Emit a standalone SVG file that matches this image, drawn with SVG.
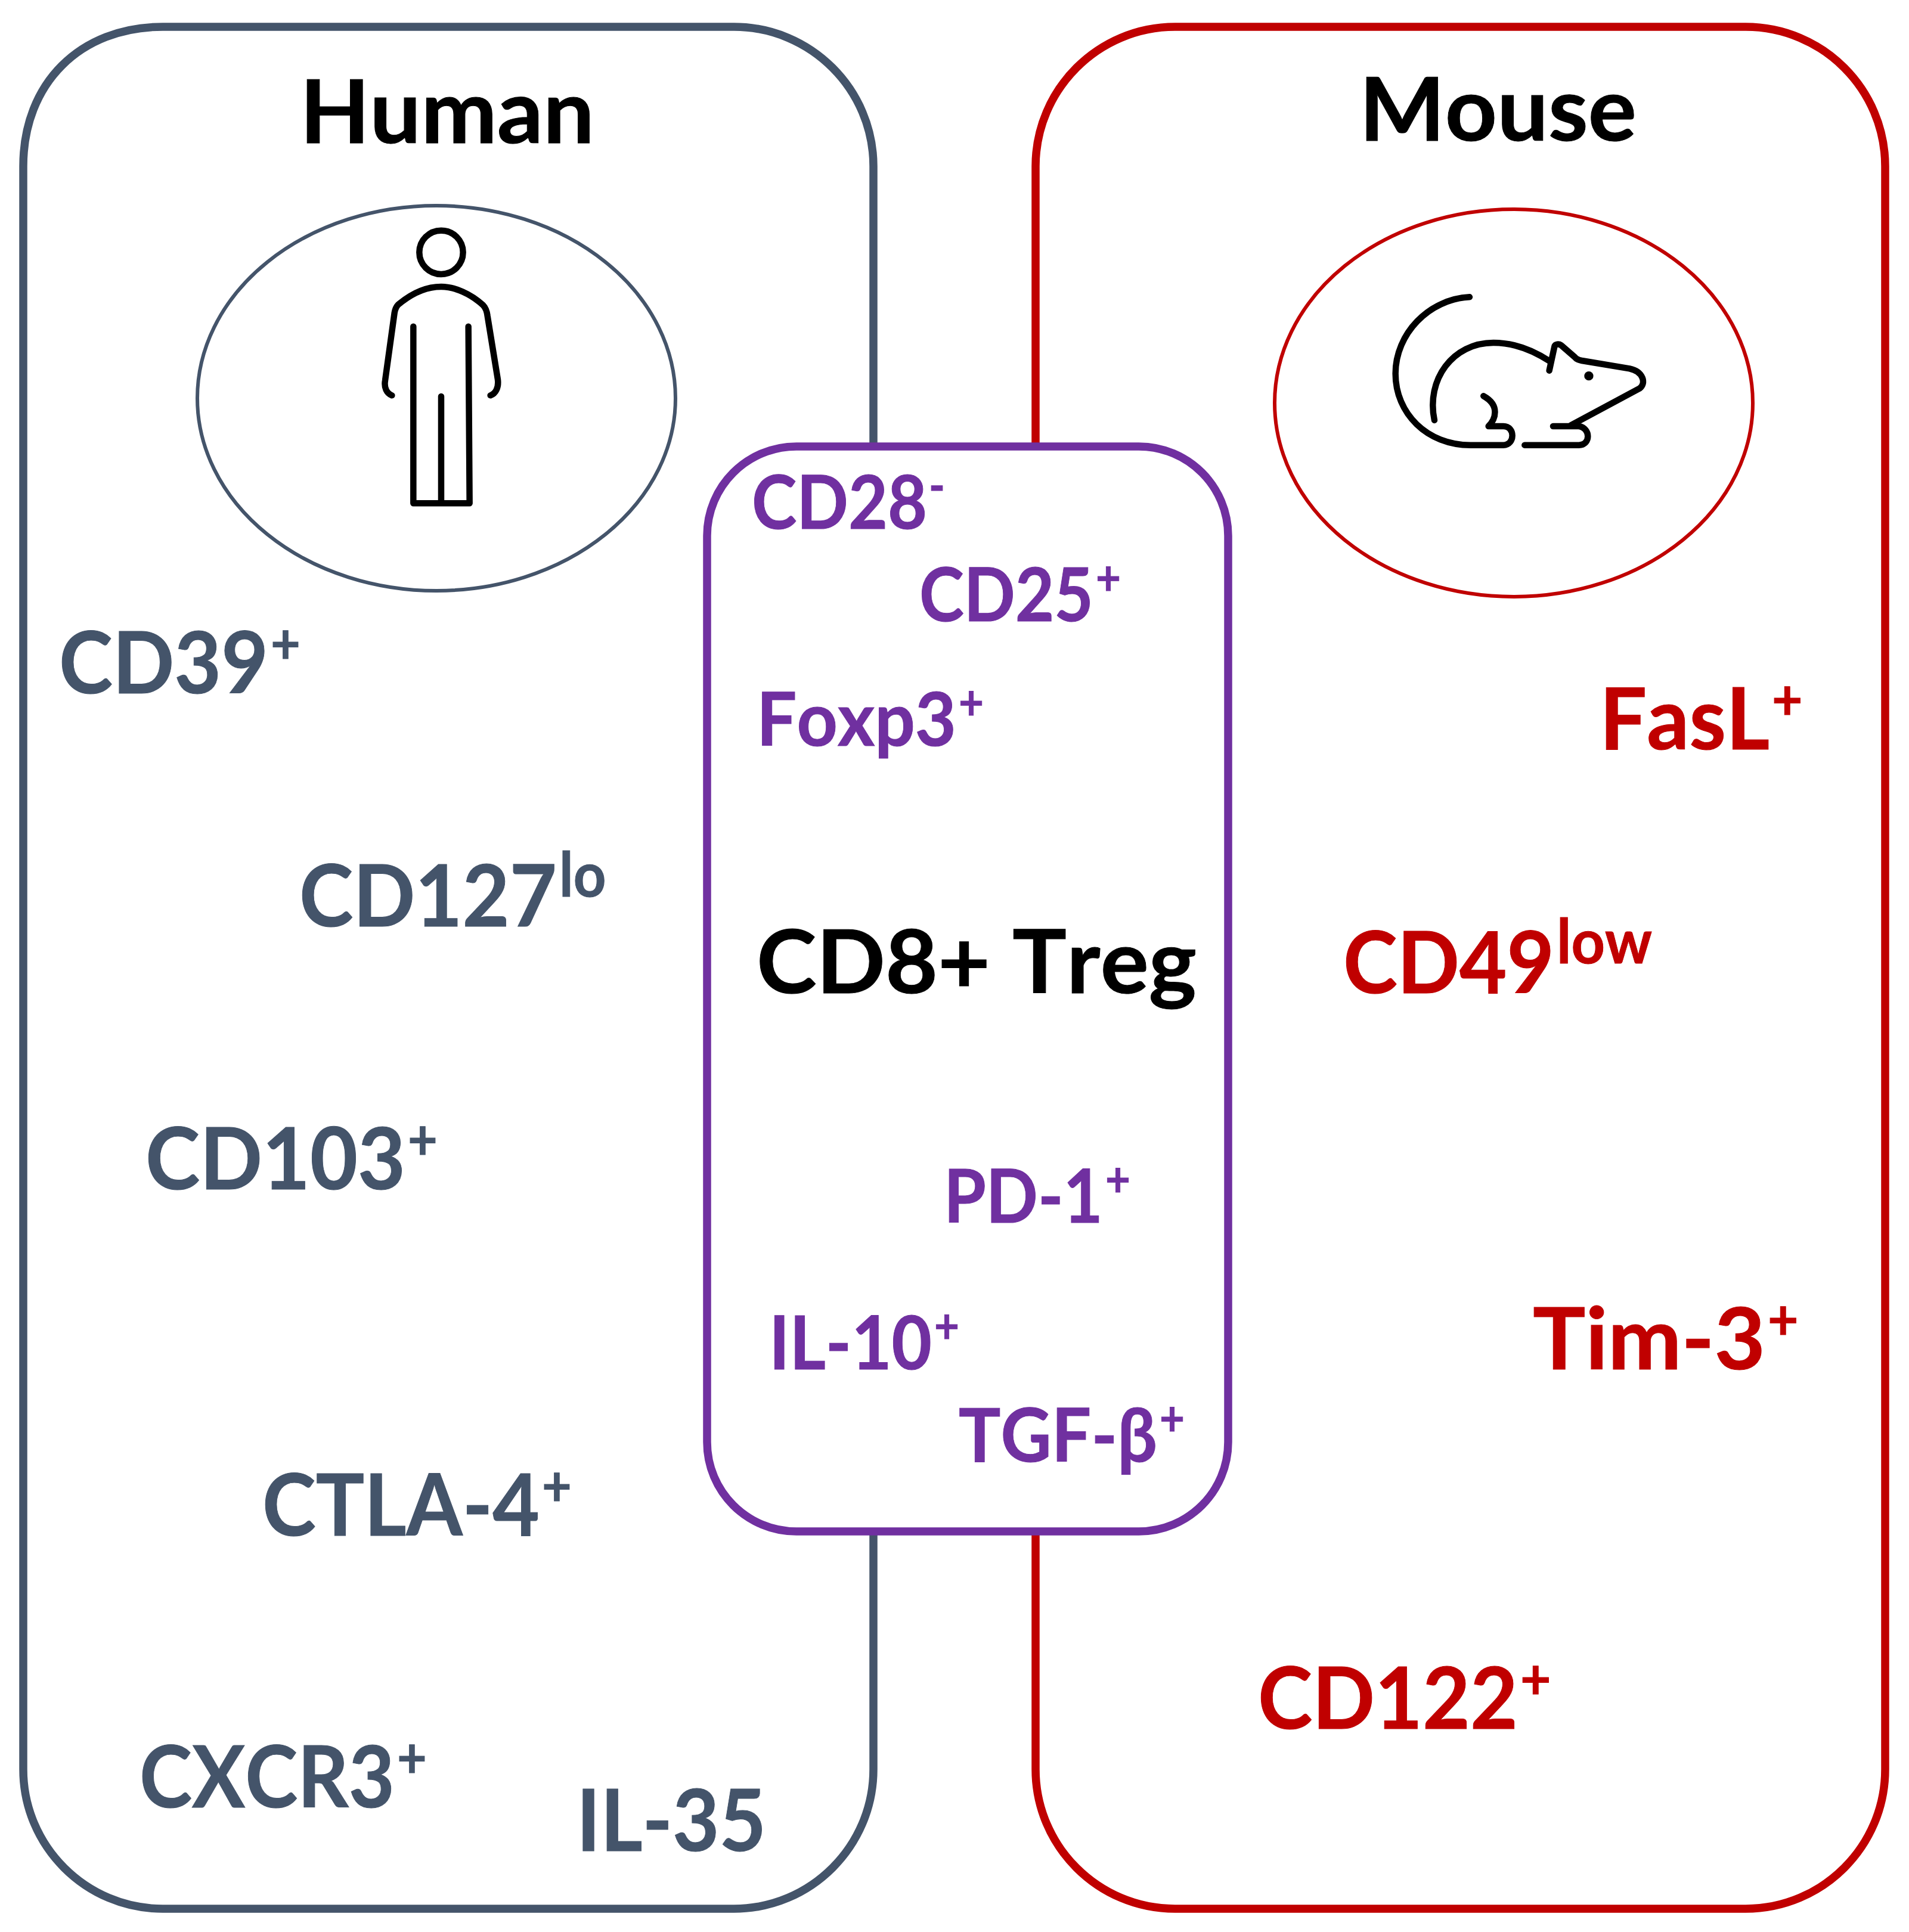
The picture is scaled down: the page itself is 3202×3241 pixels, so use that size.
<svg xmlns="http://www.w3.org/2000/svg" width="3202" height="3241" viewBox="0 0 3202 3241">
<style>
text{font-family:"Lato","Carlito","Liberation Sans",sans-serif;font-weight:700;stroke-width:1px;font-kerning:none}
.h{fill:#44546A;stroke:#44546A;font-size:144px}
.m{fill:#C00000;stroke:#C00000;font-size:144px}
.c{fill:#7030A0;stroke:#7030A0;font-size:124px}
.k{fill:#000;stroke:#000;font-size:148px}
.s{font-size:.65em}
.t{font-size:.72em}
.p{fill:#fff;stroke-width:13.5}
.i{fill:none;stroke:#000;stroke-width:10.5;stroke-linecap:round;stroke-linejoin:round;vector-effect:non-scaling-stroke}
</style>
<rect width="3202" height="3241" fill="#fff"/>
<g id="human-panel">
<path class="p" stroke="#44546A" d="M273 45H1231C1360 45 1465 150 1465 279V2968C1465 3097 1360 3202 1231 3202H273C144 3202 39 3097 39 2968V279C39 140 134 45 273 45Z"/>
<text class="k" x="503" y="240" textLength="494" lengthAdjust="spacingAndGlyphs">Human</text>
<ellipse cx="732" cy="668" rx="401" ry="323" fill="#fff" stroke="#44546A" stroke-width="6"/>
<g transform="translate(620 370) scale(.3333)">
<ellipse class="i" cx="360" cy="160" rx="110" ry="110"/>
<path class="i" d="M112 880C85 870 72 840 78 805L125 465C130 435 140 425 150 418C215 365 290 333 360 333C430 333 510 370 570 425C585 440 590 455 593 480L645 800C650 840 635 870 608 880"/>
<path class="i" d="M220 533V1423H360V885V1423H503L497 533"/>
</g>
</g>
<g id="mouse-panel">
<path class="p" stroke="#C00000" d="M1971 45H2928C3057 45 3162 150 3162 279V2968C3162 3097 3057 3202 2928 3202H1971C1842 3202 1737 3097 1737 2968V279C1737 150 1842 45 1971 45Z"/>
<text class="k" x="2280" y="236" textLength="465" lengthAdjust="spacingAndGlyphs">Mouse</text>
<ellipse cx="2539" cy="676" rx="401" ry="325" fill="#fff" stroke="#C00000" stroke-width="6"/>
<g transform="translate(2320 480) scale(.3333)">
<path class="i" d="M435 55C230 65 62 240 62 440C62 640 220 800 440 800H605C665 800 665 705 605 705H530C565 670 590 600 505 553"/>
<path class="i" d="M258 675C215 470 350 285 555 285C650 285 750 320 838 378"/>
<path class="i" d="M836 425L862 305C865 290 885 290 895 297L965 358C975 370 985 372 1000 375L1240 415C1310 430 1325 490 1290 515L945 700"/>
<path class="i" d="M855 705H985C1045 715 1045 800 985 800H712"/>
<circle cx="1035" cy="452" r="23" fill="#000"/>
</g>
</g>
<g id="treg-panel">
<path class="p" stroke="#7030A0" d="M1336 749H1910C1993 749 2060 816 2060 899V2419C2060 2502 1993 2569 1910 2569H1336C1253 2569 1186 2502 1186 2419V899C1186 816 1253 749 1336 749Z"/>
<text class="k" x="1269" y="1666" textLength="738" lengthAdjust="spacingAndGlyphs">CD8+ Treg</text>
</g>
<g id="human-markers">
<text class="h" transform="translate(99 1163) scale(.92 1)"><tspan textLength="381.5" lengthAdjust="spacingAndGlyphs">CD39</tspan><tspan class="s" x="385.9" y="-50">+</tspan></text>
<text class="h" transform="translate(502 1554) scale(.92 1)"><tspan textLength="469.6" lengthAdjust="spacingAndGlyphs">CD127</tspan><tspan class="t" x="473.9" y="-50">lo</tspan></text>
<text class="h" transform="translate(244 1995) scale(.92 1)"><tspan textLength="473.9" lengthAdjust="spacingAndGlyphs">CD103</tspan><tspan class="s" x="478.3" y="-50">+</tspan></text>
<text class="h" transform="translate(440 2576) scale(.92 1)"><tspan textLength="505.4" lengthAdjust="spacingAndGlyphs">CTLA-4</tspan><tspan class="s" x="509.8" y="-50">+</tspan></text>
<text class="h" transform="translate(234 3032) scale(.92 1)"><tspan textLength="465.2" lengthAdjust="spacingAndGlyphs">CXCR3</tspan><tspan class="s" x="469.6" y="-50">+</tspan></text>
<text class="h" x="967" y="3105" textLength="318" lengthAdjust="spacingAndGlyphs">IL-35</text>
</g>
<g id="mouse-markers">
<text class="m" transform="translate(2683 1257) scale(.95 1)"><tspan textLength="300" lengthAdjust="spacingAndGlyphs">FasL</tspan><tspan class="s" x="304.2" y="-50">+</tspan></text>
<text class="m" transform="translate(2253 1666) scale(.95 1)"><tspan textLength="372.6" lengthAdjust="spacingAndGlyphs">CD49</tspan><tspan class="t" x="376.8" y="-50">low</tspan></text>
<text class="m" transform="translate(2571 2297) scale(.95 1)"><tspan textLength="410.5" lengthAdjust="spacingAndGlyphs">Tim-3</tspan><tspan class="s" x="414.7" y="-50">+</tspan></text>
<text class="m" transform="translate(2110 2900) scale(.95 1)"><tspan textLength="458.9" lengthAdjust="spacingAndGlyphs">CD122</tspan><tspan class="s" x="463.2" y="-50">+</tspan></text>
</g>
<g id="treg-markers">
<text class="c" transform="translate(1261 887) scale(.9 1)"><tspan textLength="326.7" lengthAdjust="spacingAndGlyphs">CD28</tspan><tspan class="s" x="330" y="-44">-</tspan></text>
<text class="c" transform="translate(1542 1042) scale(.9 1)"><tspan textLength="324.4" lengthAdjust="spacingAndGlyphs">CD25</tspan><tspan class="s" x="328.9" y="-44">+</tspan></text>
<text class="c" transform="translate(1269 1251) scale(.9 1)"><tspan textLength="372.2" lengthAdjust="spacingAndGlyphs">Foxp3</tspan><tspan class="s" x="376.7" y="-44">+</tspan></text>
<text class="c" transform="translate(1583 2051) scale(.9 1)"><tspan textLength="296.7" lengthAdjust="spacingAndGlyphs">PD-1</tspan><tspan class="s" x="301.1" y="-44">+</tspan></text>
<text class="c" transform="translate(1290 2297) scale(.9 1)"><tspan textLength="303.3" lengthAdjust="spacingAndGlyphs">IL-10</tspan><tspan class="s" x="307.8" y="-44">+</tspan></text>
<text class="c" transform="translate(1608 2452) scale(.9 1)"><tspan textLength="370" lengthAdjust="spacingAndGlyphs">TGF-β</tspan><tspan class="s" x="374.4" y="-44">+</tspan></text>
</g>
<g id="connectors"/>
</svg>
